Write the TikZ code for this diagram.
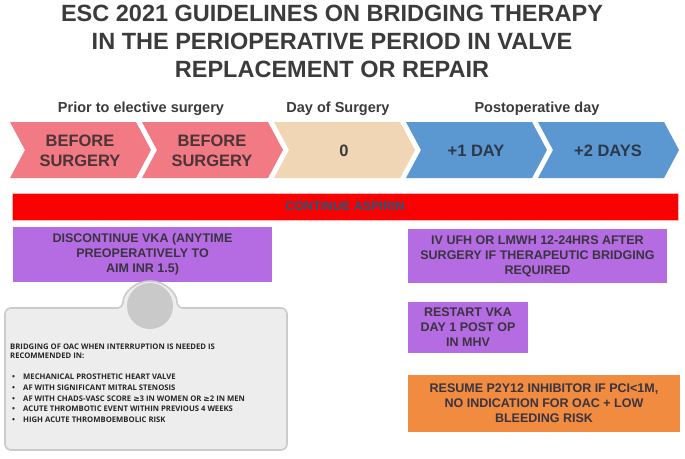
\documentclass[tikz,border=0pt]{standalone}
\usepackage{fontspec}
\setmainfont{Liberation Sans}
\newfontfamily\osans{Open Sans}
\newfontfamily\djv{DejaVu Sans}
\definecolor{pinkC}{HTML}{F17A85}
\definecolor{beigeC}{HTML}{F0D6B4}
\definecolor{blueC}{HTML}{5B98D2}
\definecolor{purpleC}{HTML}{B56CE2}
\definecolor{orangeC}{HTML}{F08B40}
\definecolor{redC}{HTML}{FA0000}
\definecolor{darkT}{HTML}{3B3B3B}
\definecolor{pinkT}{HTML}{4B3437}
\definecolor{blueT}{HTML}{2C3848}
\definecolor{boxT}{HTML}{3A3340}
\definecolor{aspT}{HTML}{1F5878}
\definecolor{grayF}{HTML}{EDEDED}
\definecolor{grayD}{HTML}{CBCBCB}
\definecolor{circF}{HTML}{C9C9C9}
\begin{document}
\begin{tikzpicture}[x=1pt,y=-1pt,
  titletxt/.style={anchor=base,inner sep=0pt,text=darkT,font=\bfseries\fontsize{23.5}{28}\selectfont},
  headtxt/.style={anchor=base,inner sep=0pt,text=darkT,font=\bfseries\fontsize{14.5}{17}\selectfont},
  chevtxt/.style={align=center,inner sep=0pt,font=\bfseries\fontsize{16.5}{20}\selectfont},
  infobox/.style={align=center,inner sep=0pt,text=boxT,font=\bfseries\fontsize{12.5}{15}\selectfont},
  smalltxt/.style={anchor=base west,inner sep=0pt,text=black!85,font=\osans\bfseries\fontsize{7.7}{9}\selectfont}
]
\fill[white] (0,0) rectangle (685,458);
\useasboundingbox (0,0) rectangle (685,458);

% title
\node[titletxt] (t1) at (332,21) {ESC 2021 GUIDELINES ON BRIDGING THERAPY};
\node[titletxt] (t2) at (332,49) {IN THE PERIOPERATIVE PERIOD IN VALVE};
\node[titletxt] (t3) at (332,77) {REPLACEMENT OR REPAIR};

% header labels
\node[headtxt] (h1) at (141,112) {Prior to elective surgery};
\node[headtxt] (h2) at (338,112) {Day of Surgery};
\node[headtxt] (h3) at (537,112) {Postoperative day};

% chevrons
\foreach \s/\c in {10/pinkC,142/pinkC,274/beigeC,406/blueC,538/blueC}{
  \fill[\c] (\s,122) -- ++(126,0) -- ++(15,28) -- ++(-15,28) -- ++(-126,0) -- ++(15,-28) -- cycle;
}
\node[chevtxt,text=pinkT] (c1) at (80,151) {BEFORE\\SURGERY};
\node[chevtxt,text=pinkT] (c2) at (212,151) {BEFORE\\SURGERY};
\node[chevtxt,text=darkT] (c3) at (344,151) {0};
\node[chevtxt,text=blueT] (c4) at (476,151) {+1 DAY};
\node[chevtxt,text=blueT] (c5) at (608,151) {+2 DAYS};

% aspirin bar
\node[fill=redC,draw=red!30,line width=0.8pt,minimum width=666pt,minimum height=27pt,inner sep=0pt,
      text=aspT,font=\bfseries\fontsize{12.5}{15}\selectfont] (asp) at (345,206.5) {CONTINUE ASPIRIN};

% purple / orange boxes
\node[infobox,fill=purpleC,minimum width=259pt,minimum height=55pt] (b1) at (142.5,254.5)
  {DISCONTINUE VKA (ANYTIME\\PREOPERATIVELY TO\\AIM INR 1.5)};
\node[infobox,fill=purpleC,minimum width=259pt,minimum height=54pt] (b2) at (537.5,256)
  {IV UFH OR LMWH 12-24HRS AFTER\\SURGERY IF THERAPEUTIC BRIDGING\\REQUIRED};
\node[infobox,fill=purpleC,minimum width=120pt,minimum height=51pt] (b3) at (468,327)
  {RESTART VKA\\DAY 1 POST OP\\IN MHV};
\node[infobox,fill=orangeC,minimum width=272pt,minimum height=57pt] (b4) at (544,403)
  {RESUME P2Y12 INHIBITOR IF PCI<1M,\\NO INDICATION FOR OAC + LOW\\BLEEDING RISK};

% gray callout
\draw[fill=grayF,draw=grayD,line width=1.6pt,rounded corners=6pt]
  (5,450) -- (5,308) -- (123,308) arc[start angle=180,end angle=0,radius=27pt] -- (287,308) -- (287,450) -- cycle;
\fill[circF] (150,306) circle[radius=23pt];

\node[smalltxt] (g1) at (10,349.5) {BRIDGING OF OAC WHEN INTERRUPTION IS NEEDED IS};
\node[smalltxt] (g2) at (10,358.8) {RECOMMENDED IN:};
\node[smalltxt] (l1) at (12,379.5) {\makebox[11pt][l]{•}MECHANICAL PROSTHETIC HEART VALVE};
\node[smalltxt] (l2) at (12,390.3) {\makebox[11pt][l]{•}AF WITH SIGNIFICANT MITRAL STENOSIS};
\node[smalltxt] (l3) at (12,401.1) {\makebox[11pt][l]{•}AF WITH CHADS-VASC SCORE {\djv ≥}3 IN WOMEN OR {\djv ≥}2 IN MEN};
\node[smalltxt] (l4) at (12,411.9) {\makebox[11pt][l]{•}ACUTE THROMBOTIC EVENT WITHIN PREVIOUS 4 WEEKS};
\node[smalltxt] (l5) at (12,422.7) {\makebox[11pt][l]{•}HIGH ACUTE THROMBOEMBOLIC RISK};
\end{tikzpicture}
\end{document}
